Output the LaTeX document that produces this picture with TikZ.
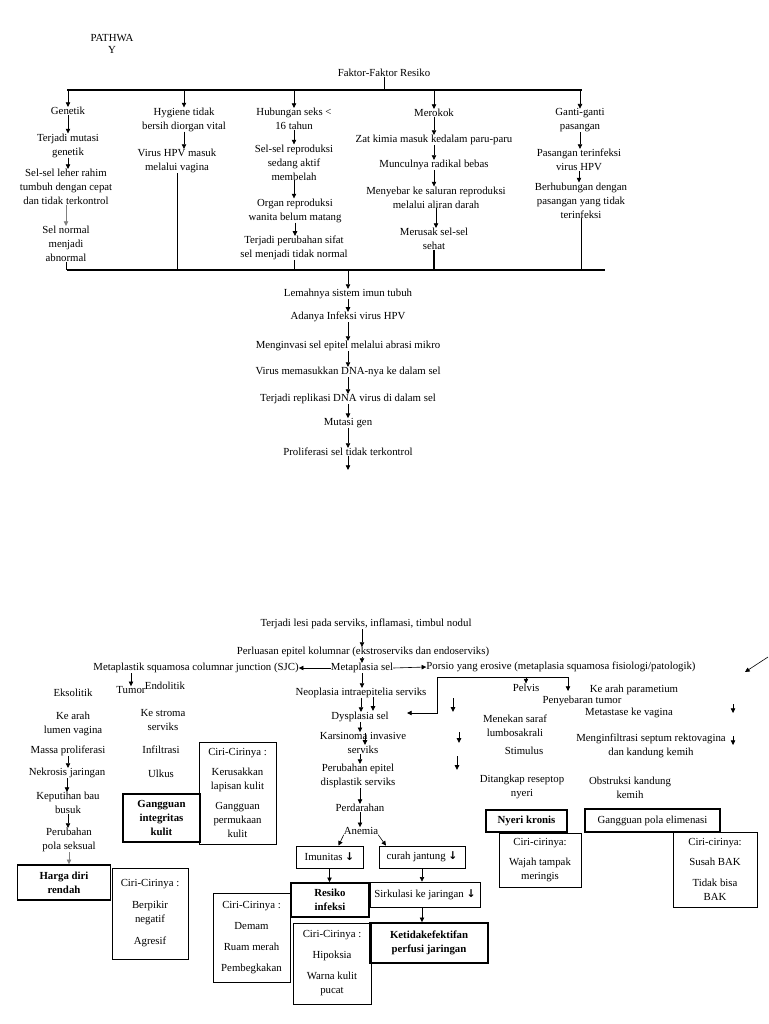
\documentclass[tikz,border=0pt]{standalone}
\usepackage{fontspec}
\setmainfont{Liberation Serif}
\newfontfamily\dvsfont{DejaVu Sans}
\usetikzlibrary{arrows.meta}
\newcommand{\mydown}{{\dvsfont\bfseries ↓}}
\begin{document}
\begin{tikzpicture}[x=1pt,y=-1pt,
  every node/.style={font=\fontsize{10.8}{14}\selectfont, inner sep=0pt, align=center},
  arr/.style={-{Triangle[length=4.6pt,width=4.4pt]}, line width=0.6pt},
  darr/.style={-{Triangle[length=5pt,width=4.6pt]}, line width=0.9pt},
  faint/.style={-{Triangle[length=4.6pt,width=4.4pt]}, line width=0.5pt, gray},
  ln/.style={line width=0.7pt},
  thk/.style={line width=1.7pt},
  cbox/.style={draw, line width=0.7pt},
  bbox/.style={draw, line width=1.8pt},
  bf/.style={font=\fontsize{10.8}{14}\selectfont\bfseries},
]
\fill[white] (0,0) rectangle (768,1024);
\useasboundingbox (0,0) rectangle (768,1024);

% ---------------- top part ----------------
\node (pathway) at (112,44) {PATHWA\\[-2pt]Y};
\node (faktor) at (384,73) {Faktor-Faktor Resiko};
\coordinate (topL) at (67,90);
\coordinate (topR) at (582,90);
\coordinate (botL) at (67,270);
\coordinate (botR) at (605,270);
\draw[thk] (topL) -- (topR);
\draw[thk] (botL) -- (botR);
\draw[ln] (faktor.south) -- (faktor.south |- topL);

\node (gen) at (68,111) {Genetik};
\node (gen2) at (68,145.5) {Terjadi mutasi\\genetik};
\node (gen3) at (66,187) {Sel-sel leher rahim\\tumbuh dengan cepat\\dan tidak terkontrol};
\node (gen4) at (66,244) {Sel normal\\menjadi\\abnormal};

\node (hyg) at (184,119.5) {Hygiene tidak\\bersih diorgan vital};
\node (hyg2) at (177,161) {Virus HPV masuk\\melalui vagina};

\node (hub) at (294,119) {Hubungan seks <\\16 tahun};
\node (hub2) at (294,162.5) {Sel-sel reproduksi\\sedang aktif\\membelah};
\node (hub3) at (295,210.5) {Organ reproduksi\\wanita belum matang};
\node (hub4) at (294,248) {Terjadi perubahan sifat\\sel menjadi tidak normal};

\node (mer) at (434,113) {Merokok};
\node (mer2) at (434,140) {Zat kimia masuk kedalam paru-paru};
\node (mer3) at (434,165) {Munculnya radikal bebas};
\node (mer4) at (436,197.5) {Menyebar ke saluran reproduksi\\melalui aliran darah};
\node (mer5) at (434,239) {Merusak sel-sel\\sehat};

\node (gan) at (580,120.5) {Ganti-ganti\\pasangan};
\node (gan2) at (579,160) {Pasangan terinfeksi\\virus HPV};
\node (gan3) at (581,200.5) {Berhubungan dengan\\pasangan yang tidak\\terinfeksi};

\draw[arr] (gen |- topL) -- (gen.north);
\draw[arr] (hyg |- topL) -- (hyg.north);
\draw[arr] (hub |- topL) -- (hub.north);
\draw[arr] (mer |- topL) -- (mer.north);
\draw[arr] (gan |- topL) -- (gan.north);

\draw[arr] (gen.south) -- (gen.south |- gen2.north);
\draw[arr] (gen2.south) -- (gen2.south |- gen3.north);
\draw[faint] (gen3.south) -- (gen3.south |- gen4.north);
\draw[arr] (hyg.south) -- (hyg.south |- hyg2.north);
\draw[arr] (hub.south) -- (hub.south |- hub2.north);
\draw[arr] (hub2.south) -- (hub2.south |- hub3.north);
\draw[arr] (hub3.south) -- (hub3.south |- hub4.north);
\draw[arr] (mer.south) -- (mer.south |- mer2.north);
\draw[arr] (mer2.south) -- (mer2.south |- mer3.north);
\draw[arr] (mer3.south) -- (mer3.south |- mer4.north);
\draw[arr] (mer4.south) -- (mer4.south |- mer5.north);
\draw[arr] (gan.south) -- (gan.south |- gan2.north);
\draw[arr] (gan2.south) -- (gan2.south |- gan3.north);

\draw[ln] (gen4.south) -- (gen4.south |- botL);
\draw[ln] (hyg2.south) -- (hyg2.south |- botL);
\draw[ln] (hub4.south) -- (hub4.south |- botL);
\draw[thk] (mer5.south) -- (mer5.south |- botL);
\draw[ln] (gan3.south) -- (gan3.south |- botL);

% ---------------- middle chain ----------------
\node (c1) at (348,294) {Lemahnya sistem imun tubuh};
\node (c2) at (348,317) {Adanya Infeksi virus HPV};
\node (c3) at (348,346) {Menginvasi sel epitel melalui abrasi mikro};
\node (c4) at (348,372) {Virus memasukkan DNA-nya ke dalam sel};
\node (c5) at (348,399) {Terjadi replikasi DNA virus di dalam sel};
\node (c6) at (348,423) {Mutasi gen};
\node (c7) at (348,452) {Proliferasi sel tidak terkontrol};
\coordinate (cend) at (348,470);
\draw[arr] (c1.north |- botL) -- (c1.north);
\draw[arr] (c1.south) -- (c2.north);
\draw[arr] (c2.south) -- (c3.north);
\draw[arr] (c3.south) -- (c4.north);
\draw[arr] (c4.south) -- (c5.north);
\draw[arr] (c5.south) -- (c6.north);
\draw[arr] (c6.south) -- (c7.north);
\draw[arr] (c7.south) -- (cend);

% ---------------- bottom part ----------------
\node (b1) at (366,624) {Terjadi lesi pada serviks, inflamasi, timbul nodul};
\node (b2) at (363,652) {Perluasan epitel kolumnar (ekstroserviks dan endoserviks)};
\node (meta) at (362,668) {Metaplasia sel};
\node (sjc) at (196,668) {Metaplastik squamosa columnar junction (SJC)};
\node (porsio) at (561,667) {Porsio yang erosive (metaplasia squamosa fisiologi/patologik)};
\draw[arr] (b1.south -| meta.north) -- (meta.north |- b2.north);
\draw[arr] (b2.south -| meta.north) -- (meta.north);
\draw[arr] (meta.west) -- (sjc.east);
\draw[arr] (meta.east) -- (porsio.west);

% left branch
\node (tumor) at (131,690) {Tumor};
\node (endo) at (165,686) {Endolitik};
\node (ekso) at (73,693) {Eksolitik};
\draw[arr] (sjc.south -| tumor) -- (tumor.north);
\node (e1) at (73,724) {Ke arah\\lumen vagina};
\node (e2) at (68,751) {Massa proliferasi};
\node (e3) at (67,773) {Nekrosis jaringan};
\node (e4) at (68,803) {Keputihan bau\\busuk};
\node (e5) at (69,840) {Perubahan\\pola seksual};
\draw[arr] (e2.south) -- (e2.south |- e3.north);
\draw[arr] (e3.south) -- (e3.south |- e4.north);
\draw[arr] (e4.south) -- (e4.south |- e5.north);
\node[bbox,bf,minimum width=93pt,minimum height=35pt] (harga) at (64,882.5) {Harga diri\\rendah};
\draw[faint] (e5.south) -- (e5.south |- harga.north);
\node[cbox,minimum width=76pt,minimum height=91pt] (hargac) at (150,913.5) {Ciri-Cirinya :\\[8pt]Berpikir\\negatif\\[8pt]Agresif};

\node (d1) at (163,720) {Ke stroma\\serviks};
\node (d2) at (161,750) {Infiltrasi};
\node (d3) at (161,774) {Ulkus};
\node[cbox,minimum width=77pt,minimum height=102pt] (gikc) at (237.5,793) {Ciri-Cirinya :\\[6pt]Kerusakkan\\lapisan kulit\\[6pt]Gangguan\\permukaan\\kulit};
\node[bbox,bf,minimum width=77pt,minimum height=48pt] (gik) at (161.5,818) {Gangguan\\integritas\\kulit};

% central chain
\node (neo) at (361,693) {Neoplasia intraepitelia serviks};
\node (dys) at (360,717) {Dysplasia sel};
\node (kars) at (363,743) {Karsinoma invasive\\serviks};
\node (perub) at (358,776) {Perubahan epitel\\displastik serviks};
\node (perd) at (360,808) {Perdarahan};
\node (anem) at (361,831) {Anemia};
\draw[arr] (meta.south) -- (meta.south |- neo.north);
\draw[arr] (neo.south) -- (neo.south |- dys.north);
\draw[arr] (dys.south) -- (dys.south |- kars.north);
\draw[arr] (kars.south -| dys.south) -- (dys.south |- perub.north);
\draw[arr] (perub.south -| dys.south) -- (dys.south |- perd.north);
\draw[arr] (perd.south) -- (perd.south |- anem.north);

% loose arrows
\coordinate (s1a) at (373,697); \coordinate (s1b) at (373,711);
\coordinate (s2a) at (365,733); \coordinate (s2b) at (365,745);
\coordinate (s3a) at (453,698); \coordinate (s3b) at (453,712);
\coordinate (s4a) at (459,732); \coordinate (s4b) at (459,743);
\coordinate (s5a) at (457,756); \coordinate (s5b) at (457,770);
\coordinate (s6a) at (733,704); \coordinate (s6b) at (733,713);
\coordinate (s7a) at (733,736); \coordinate (s7b) at (733,745);
\coordinate (s8a) at (768,657); \coordinate (s8b) at (745,672);
\draw[darr] (s1a) -- (s1b);
\draw[darr] (s2a) -- (s2b);
\draw[darr] (s3a) -- (s3b);
\draw[darr] (s4a) -- (s4b);
\draw[darr] (s5a) -- (s5b);
\draw[arr] (s6a) -- (s6b);
\draw[arr] (s7a) -- (s7b);
\draw[arr] (s8a) -- (s8b);

% bracket from porsio
\node (pelvis) at (526,687.5) {Pelvis};
\coordinate (brA) at (437,677);
\coordinate (brB) at (568,677);
\coordinate (brC) at (437,713);
\coordinate (brD) at (568,691);
\coordinate (brE) at (407,713);
\draw[ln] (brA) -- (brB);
\draw[arr] (brA) -- (brC) -- (brE);
\draw[arr] (pelvis.north |- brA) -- (pelvis.north);
\draw[arr] (brB) -- (brD);

% right side
\node (peny) at (582,701) {Penyebaran tumor};
\node (kearah) at (634,690) {Ke arah parametium};
\node (metas) at (629,713) {Metastase ke vagina};
\node (mengi) at (651,745.5) {Menginfiltrasi septum rektovagina\\dan kandung kemih};
\node (obst) at (630,787.5) {Obstruksi kandung\\kemih};
\node (menek) at (515,725.5) {Menekan saraf\\lumbosakrali};
\node (stim) at (524,751) {Stimulus};
\node (ditang) at (522,786.5) {Ditangkap reseptop\\nyeri};

\node[cbox,minimum width=82pt,minimum height=54pt] (nyeric) at (540,860) {Ciri-cirinya:\\[6pt]Wajah tampak\\meringis};
\node[bbox,bf,minimum width=81pt,minimum height=22pt] (nyeri) at (526.5,821) {Nyeri kronis};
\node[cbox,minimum width=84pt,minimum height=75pt] (gpec) at (715,869.5) {Ciri-cirinya:\\[6pt]Susah BAK\\[7pt]Tidak bisa\\BAK};
\node[bbox,minimum width=135pt,minimum height=23pt] (gpe) at (652.5,820.5) {Gangguan pola elimenasi};

% anemia branch
\node[cbox,minimum width=67pt,minimum height=22pt] (imun) at (329.5,857) {Imunitas \mydown};
\node[cbox,minimum width=86pt,minimum height=22pt] (curah) at (422,857) {curah jantung \mydown};
\node[cbox,minimum width=110pt,minimum height=25pt] (sirk) at (425,894.5) {Sirkulasi ke jaringan \mydown};
\node[cbox,minimum width=78pt,minimum height=81pt] (hipc) at (332,963.5) {Ciri-Cirinya :\\[7pt]Hipoksia\\[7pt]Warna kulit\\pucat};
\node[cbox,minimum width=77pt,minimum height=89pt] (demc) at (251.5,937.5) {Ciri-Cirinya :\\[7pt]Demam\\[7pt]Ruam merah\\[7pt]Pembegkakan};
\node[bbox,bf,minimum width=78pt,minimum height=34pt] (resiko) at (330,900) {Resiko\\infeksi};
\node[bbox,bf,minimum width=118pt,minimum height=40pt] (keti) at (429,943) {Ketidakefektifan\\perfusi jaringan};

\draw[arr] (anem.south west) -- ([xshift=9pt]imun.north);
\draw[arr] (anem.south east) -- ([xshift=-36pt]curah.north);
\draw[arr] (imun.south) -- (imun.south |- resiko.north);
\draw[arr] (curah.south) -- (curah.south |- sirk.north);
\draw[arr] (sirk.south -| curah.south) -- (keti.north -| curah.south);
\end{tikzpicture}
\end{document}
